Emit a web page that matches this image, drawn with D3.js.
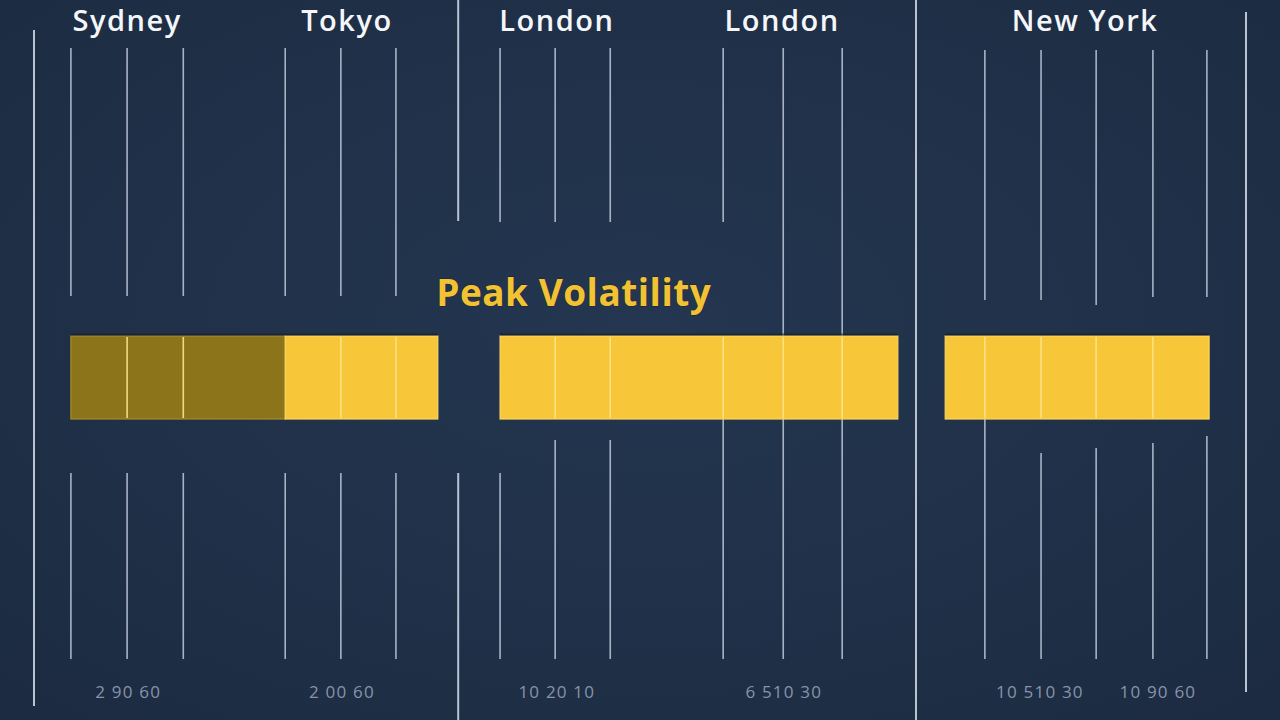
<!DOCTYPE html>
<html><head><meta charset="utf-8">
<script src="https://cdn.jsdelivr.net/npm/d3@7/dist/d3.min.js"></script>
<style>html,body{margin:0;padding:0;background:#1f2f46;overflow:hidden}</style>
</head><body>
<svg id="chart" width="1280" height="720"></svg>
<script>
// ---- data (hours on a 0–22 session axis) ----
const sessionNames   = ["Sydney", "Tokyo", "London", "London", "New York"];
const sessionCenters = [1.69, 5.68, 9.49, 13.58, 19.08];
const timeLabels     = ["2 90 60", "2 00 60", "10 20 10", "6 510 30", "10 510 30", "10 90 60"];
const timeLabelPos   = [1.71, 5.59, 9.49, 13.61, 18.26, 20.40];
const boundaries     = [0, 7.70, 16.01, 22];
const hourTicks      = [0.67, 1.69, 2.71, 4.56, 5.57, 6.57, 8.46, 9.46, 10.46, 12.51, 13.60, 14.67, 17.26, 18.28, 19.28, 20.31, 21.29];
const barStarts      = [0.67, 4.56, 8.46, 16.54];
const barEnds        = [4.56, 7.33, 15.68, 21.33];
const barLevel       = ["low", "high", "high", "high"];
const peakLabel      = "Peak Volatility";
const peakAt         = 7.30;

// ---- layout ----
const W = 1280, H = 720;
const x = d3.scaleLinear().domain([0, 22]).range([34, 1246]);
const bandTop = 336, bandBottom = 419;

const svg = d3.select("#chart");
const defs = svg.append("defs");
const bg = defs.append("radialGradient").attr("id", "bg").attr("cx", "50%").attr("cy", "45%").attr("r", "75%");
bg.append("stop").attr("offset", "0%").attr("stop-color", "#243650");
bg.append("stop").attr("offset", "100%").attr("stop-color", "#1c2b41");
svg.append("rect").attr("width", W).attr("height", H).attr("fill", "url(#bg)");

// boundary lines (long)
const bY = [[30, 706], [[0, 221], [473, 720]], [0, 720], [12, 692]];
boundaries.forEach((b, i) => {
  const segs = Array.isArray(bY[i][0]) ? bY[i] : [bY[i]];
  segs.forEach(s => {
    svg.append("line").attr("x1", x(b)).attr("x2", x(b)).attr("y1", s[0]).attr("y2", s[1])
      .attr("stroke", "#b9c3d2").attr("stroke-width", 2);
  });
});

// tick lines: upper and lower extents per tick
const upperEnd = [296,296,296,296,296,296,222,222,222,222,bandTop,bandTop,300,300,305,297,297];
const lowerStart = [473,473,473,473,473,473,473,440,440,bandBottom,bandBottom,bandBottom,bandBottom,453,448,443,436];
const tickG = svg.append("g");
tickG.selectAll("line.up").data(hourTicks).join("line").attr("class", "up")
  .attr("x1", d => x(d)).attr("x2", d => x(d))
  .attr("y1", (d, i) => i < 12 ? 48 : 50).attr("y2", (d, i) => upperEnd[i])
  .attr("stroke", "#a8b4c5").attr("stroke-width", 1.6);
tickG.selectAll("line.lo").data(hourTicks).join("line").attr("class", "lo")
  .attr("x1", d => x(d)).attr("x2", d => x(d))
  .attr("y1", (d, i) => lowerStart[i]).attr("y2", 659)
  .attr("stroke", "#a8b4c5").attr("stroke-width", 1.6);

// bars
const bars = barStarts.map((s, i) => ({s, e: barEnds[i], lvl: barLevel[i]}));
svg.append("g").selectAll("rect").data(bars).join("rect")
  .attr("x", d => x(d.s)).attr("width", d => x(d.e) - x(d.s))
  .attr("y", bandTop).attr("height", bandBottom - bandTop)
  .attr("fill", d => d.lvl === "low" ? "#8c741a" : "#f8c639")
  .attr("stroke", d => d.lvl === "low" ? "#a88d2a" : "#fbd760").attr("stroke-width", 1.2);
// shadow line above bars
svg.append("g").selectAll("line").data(bars).join("line")
  .attr("x1", d => x(d.s)).attr("x2", d => x(d.e)).attr("y1", bandTop - 1.5).attr("y2", bandTop - 1.5)
  .attr("stroke", "#141d2b").attr("stroke-width", 2).attr("opacity", 0.6);

// dividers inside bars
const inside = hourTicks.filter(t => bars.some(b => t > b.s + 0.05 && t < b.e - 0.05));
svg.append("g").selectAll("line").data(inside).join("line")
  .attr("x1", d => x(d)).attr("x2", d => x(d)).attr("y1", bandTop + 1).attr("y2", bandBottom - 1)
  .attr("stroke", "#fde58c").attr("stroke-width", 1.6).attr("opacity", 0.9);

// session titles
svg.append("g").selectAll("text").data(sessionNames).join("text")
  .attr("x", (d, i) => x(sessionCenters[i])).attr("y", 31)
  .attr("text-anchor", "middle")
  .attr("font-family", "'Open Sans', sans-serif").attr("font-weight", 600).attr("font-size", 29)
  .attr("letter-spacing", 1.5)
  .attr("fill", "#f4f6f9").text(d => d);

// peak label
svg.append("text").attr("x", x(peakAt)).attr("y", 306)
  .attr("font-family", "'Open Sans', sans-serif").attr("font-weight", 700).attr("font-size", 37)
  .attr("letter-spacing", 0.5)
  .attr("fill", "#f2c233").attr("stroke", "#1a2538").attr("stroke-width", 0.8).attr("paint-order", "stroke")
  .text(peakLabel);

// time labels
svg.append("g").selectAll("text").data(timeLabels).join("text")
  .attr("x", (d, i) => x(timeLabelPos[i])).attr("y", 698)
  .attr("text-anchor", "middle")
  .attr("font-family", "'Open Sans', sans-serif").attr("font-size", 17)
  .attr("letter-spacing", 1.2)
  .attr("fill", "#8794aa").text(d => d);
</script>
</body></html>
